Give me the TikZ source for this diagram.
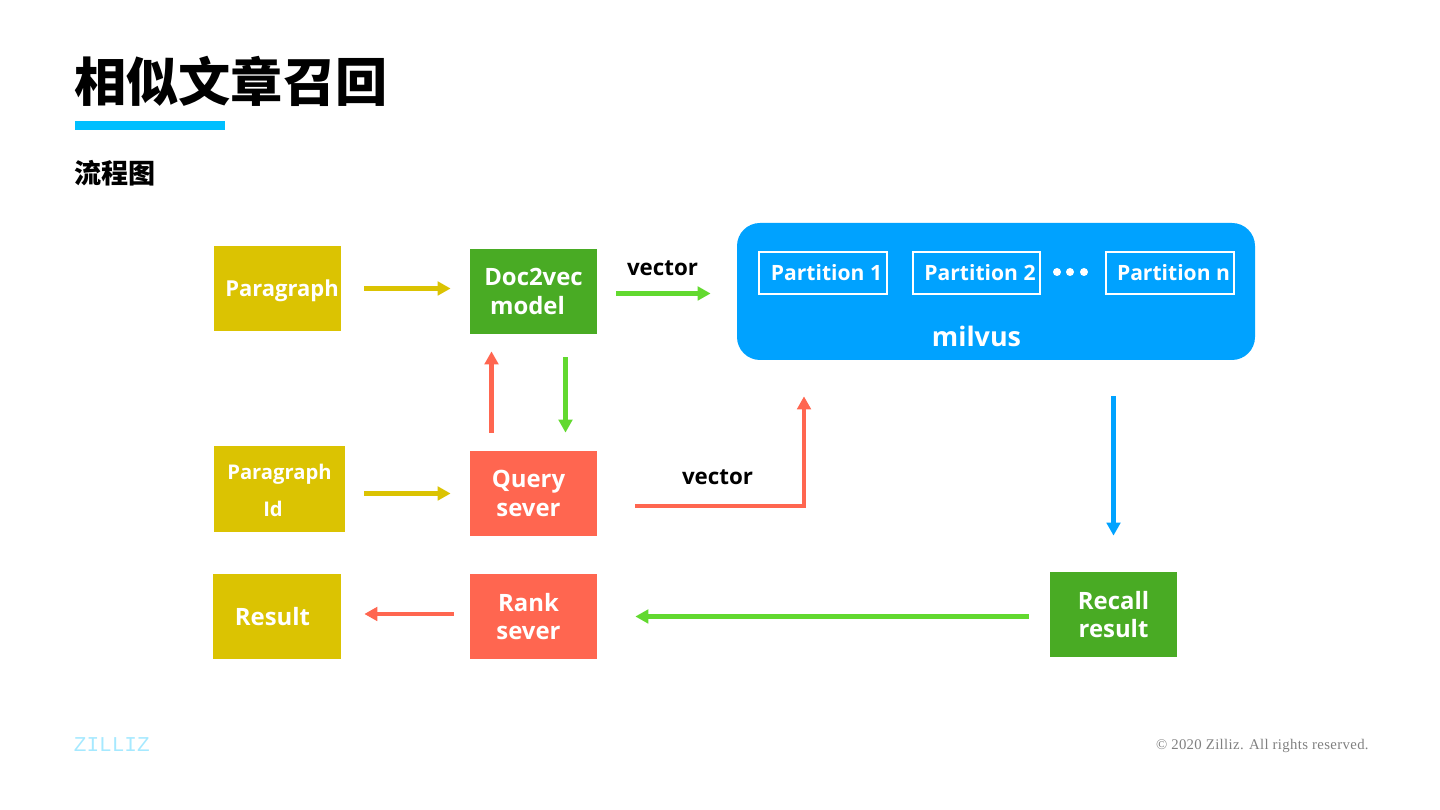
\documentclass[tikz,border=0pt]{standalone}
\usepackage{fontspec}
\setmainfont{Open Sans}
\newfontfamily\cjkfont{Noto Sans CJK SC}
\newfontfamily\cjkheavy{Noto Sans CJK SC Black}
\newfontfamily\timesfont[LetterSpace=2.4]{Liberation Serif}
\newfontfamily\logofont{Liberation Mono}
\usetikzlibrary{arrows.meta,calc}

\definecolor{boxyellow}{HTML}{DBC302}
\definecolor{boxgreen}{HTML}{49AB24}
\definecolor{boxred}{HTML}{FF6650}
\definecolor{boxblue}{HTML}{00A2FF}
\definecolor{arrowgreen}{HTML}{62D92F}
\definecolor{barblue}{HTML}{00BFFF}

\tikzset{
  flowbox/.style={rectangle, text=white, align=center, inner sep=0pt,
    minimum width=2.54cm, minimum height=1.7cm,
    font=\fontsize{13.6}{16.4}\selectfont\bfseries},
  partbox/.style={rectangle, draw=white, line width=0.04cm, text=white, inner sep=0pt,
    minimum width=2.54cm, minimum height=0.84cm,
    font=\fontsize{12}{14}\selectfont\bfseries},
  flowarrow/.style={line width=0.085cm, -{Triangle[length=0.26cm,width=0.27cm]}},
  veclabel/.style={text=black, inner sep=0pt, font=\fontsize{12.7}{14}\selectfont\bfseries}
}

\begin{document}
\begin{tikzpicture}
  \useasboundingbox (0, 0) rectangle (28.8, 16.2);

  % heading
  \node [anchor=west, inner sep=0pt, font=\cjkheavy\fontsize{29.7}{32}\selectfont] (title) at (1.48, 14.58) {相似文章召回};
  \node [anchor=west, inner sep=0pt, fill=barblue, minimum width=3cm, minimum height=0.18cm] (titlebar) at (1.5, 13.69) {};
  \node [anchor=west, inner sep=0pt, font=\cjkfont\bfseries\fontsize{15.4}{18}\selectfont] (subtitle) at (1.49, 12.74) {流程图};

  % left column
  \node [flowbox, fill=boxyellow, text depth=0pt, font=\fontsize{12.5}{16}\selectfont\bfseries] (paragraph) at (5.55, 10.43) {\hspace*{0.18cm}Paragraph};
  \node [flowbox, fill=boxyellow, minimum width=2.62cm, minimum height=1.72cm, font=\fontsize{11.5}{21}\selectfont\bfseries] (paragraphid) at (5.59, 6.42) {\rule{0pt}{0.36cm}Paragraph\\\hspace*{-0.26cm}Id};
  \node [flowbox, fill=boxyellow, minimum width=2.56cm] (result) at (5.54, 3.87) {\hspace*{-0.18cm}Result};

  % middle column
  \node [flowbox, fill=boxgreen] (doc2vec) at (10.67, 10.37) {Doc2vec\\\hspace*{-0.24cm}model};
  \node [flowbox, fill=boxred] (query) at (10.67, 6.33) {\hspace*{-0.2cm}Query\\\hspace*{-0.2cm}sever};
  \node [flowbox, fill=boxred] (rank) at (10.67, 3.87) {\hspace*{-0.2cm}Rank\\\hspace*{-0.2cm}sever};

  % right side
  \node [flowbox, fill=boxgreen] (recall) at (22.27, 3.91) {Recall\\result};
  \node [rectangle, fill=boxblue, rounded corners=0.46cm, minimum width=10.36cm, minimum height=2.74cm, inner sep=0pt] (milvus) at (19.92, 10.37) {};
  \node [text=white, inner sep=0pt, font=\fontsize{15.3}{18}\selectfont\bfseries] (milvusname) at (19.53, 9.48) {milvus};
  \node [partbox, minimum width=2.56cm] (part1) at (16.46, 10.74) {\hspace*{0.14cm}Partition 1};
  \node [partbox] (part2) at (19.53, 10.74) {\hspace*{0.14cm}Partition 2};
  \node [partbox, minimum width=2.56cm] (partn) at (23.40, 10.74) {\hspace*{0.14cm}Partition n};
  \foreach \dotx/\dotname in {21.14/a, 21.40/b, 21.68/c}
    \node [circle, fill=white, inner sep=0pt, minimum size=0.16cm] (dot\dotname) at (\dotx, 10.76) {};

  % arrows
  \draw [flowarrow, boxyellow, shorten <=0.46cm, shorten >=0.38cm] (paragraph.east) -- (paragraph.east -| doc2vec.west);
  \draw [flowarrow, boxyellow, shorten <=0.38cm, shorten >=0.38cm] (paragraphid.east |- query.west) -- (query.west);
  \draw [flowarrow, arrowgreen, shorten <=0.38cm, shorten >=0.52cm] ([yshift=-0.04cm]doc2vec.east) -- ([yshift=-0.04cm]doc2vec.east -| milvus.west);
  \draw [flowarrow, boxred, shorten <=0.36cm, shorten >=0.34cm] ([xshift=-0.84cm]query.north) -- ([xshift=-0.84cm]doc2vec.south);
  \draw [flowarrow, arrowgreen, shorten <=0.46cm, shorten >=0.36cm] ([xshift=0.64cm]doc2vec.south) -- ([xshift=0.64cm]query.north);
  \coordinate (milvusin) at ([xshift=-3.84cm, yshift=-0.72cm]milvus.south);
  \draw [flowarrow, boxred] ([xshift=0.76cm, yshift=-0.25cm]query.east) -| (milvusin);
  \draw [flowarrow, boxblue, shorten <=0.72cm, shorten >=0.72cm] (milvus.south -| recall.north) -- (recall.north);
  \draw [flowarrow, arrowgreen, shorten <=0.42cm, shorten >=0.76cm] (recall.west |- rank.east) -- (rank.east);
  \draw [flowarrow, boxred, shorten <=0.32cm, shorten >=0.46cm] ([yshift=0.05cm]rank.west) -- ([yshift=0.05cm]rank.west -| result.east);

  \node [veclabel] (vectora) at (13.25, 10.84) {vector};
  \node [veclabel] (vectorb) at (14.35, 6.66) {vector};

  % footer
  \node [anchor=west, inner sep=0pt, text=barblue!35, font=\logofont\fontsize{12}{14}\selectfont] (logo) at (1.47, 1.3) {ZILLIZ};
  \node [anchor=east, inner sep=0pt, text=black!50, font=\timesfont\fontsize{8.4}{10}\selectfont] (copyright) at (27.38, 1.28) {© 2020 Zilliz. All rights reserved.};
\end{tikzpicture}
\end{document}
